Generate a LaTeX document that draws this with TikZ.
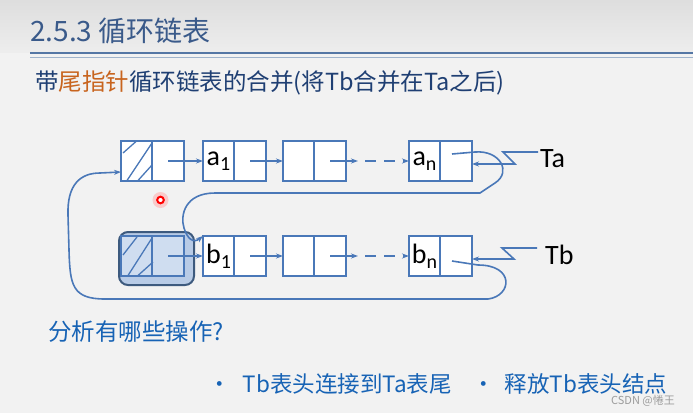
\documentclass[tikz,border=0pt]{standalone}
\usepackage{fontspec}
\setmainfont{Noto Sans CJK SC}
\newfontfamily\latinlbl{Carlito}
\usetikzlibrary{arrows.meta}
\definecolor{bgc}{HTML}{F2F2F2}
\definecolor{titleblue}{HTML}{3A5A8A}
\definecolor{subnavy}{HTML}{1F3F73}
\definecolor{orng}{HTML}{C8641E}
\definecolor{qblue}{HTML}{1763B5}
\definecolor{lblue}{HTML}{4A78B8}
\definecolor{hline}{HTML}{5577A5}
\definecolor{hline2}{HTML}{A0B4CC}
\definecolor{hfill}{HTML}{B8CBE6}
\definecolor{hdark}{HTML}{3D5A7E}
\definecolor{hcell}{HTML}{CFDDF0}
\tikzset{
  lk/.style={draw=lblue, line width=1.6pt},
  arr/.style={lk, -{Stealth[length=7pt,width=5pt]}},
  cell/.style={draw=lblue, line width=1.8pt, fill=white, minimum height=40pt, inner sep=0pt, outer sep=0pt},
  dcell/.style={cell, minimum width=31pt},
  pcell/.style={cell, minimum width=32pt},
  hatch/.style={draw=lblue, line width=1.3pt},
  lbl/.style={font=\latinlbl\fontsize{28}{28}\selectfont, text=black, inner sep=0pt},
  txt/.style={anchor=west, inner sep=0pt},
}
\newcommand{\subsc}[1]{\raisebox{-5pt}{\fontsize{20}{20}\selectfont #1}}
\begin{document}
\begin{tikzpicture}[x=1pt,y=-1pt]
\useasboundingbox (0,0) rectangle (693,413);
\fill[bgc] (0,0) rectangle (693,413);
\shade[top color=black!13, bottom color=black!7] (0,0) rectangle (693,52);
\draw[hline, line width=2.2pt] (30,53) -- (693,53);
\draw[hline2, line width=1pt] (30,57.5) -- (693,57.5);

% titles
\node[txt, text=titleblue, font=\fontsize{28}{28}\selectfont] (title) at (30,31) {2.5.3 循环链表};
\node[txt, font=\fontsize{23.5}{23.5}\selectfont, text=subnavy] (sub) at (35,83) {带\textcolor{orng}{尾指针}循环链表的合并(将Tb合并在Ta之后)};

% top list
\node[dcell, anchor=north west] (had) at (121,141) {};
\node[pcell, anchor=west] (hap) at (had.east) {};
\draw[hatch] (123,153) -- (136,141.5);
\draw[hatch] (127,180.5) -- (152,143);
\draw[hatch] (138,180.5) -- (152,165);

\node[dcell, anchor=north west] (a1d) at (203,141) {};
\node[pcell, anchor=west] (a1p) at (a1d.east) {};
\node[lbl] at (a1d.center) {a\subsc{1}};

\node[dcell, anchor=north west] (a2d) at (283,141) {};
\node[pcell, anchor=west] (a2p) at (a2d.east) {};

\node[dcell, anchor=north west] (and) at (409,141) {};
\node[pcell, anchor=west] (anp) at (and.east) {};
\node[lbl] at (and.center) {a\subsc{n}};

% bottom list
\node[draw=hdark, fill=hfill, rounded corners=9pt, line width=2pt, minimum width=75pt, minimum height=53pt, inner sep=0pt, anchor=north west] (hbox) at (118,231) {};
\node[dcell, fill=hcell, anchor=north west] (hbd) at (121,236) {};
\node[pcell, fill=hcell, anchor=west] (hbp) at (hbd.east) {};
\draw[hatch] (123,255) -- (137,237);
\draw[hatch] (128,275.5) -- (152,238);
\draw[hatch] (138,275.5) -- (153,262);

\node[dcell, anchor=north west] (b1d) at (203,236) {};
\node[pcell, anchor=west] (b1p) at (b1d.east) {};
\node[lbl] at (b1d.center) {b\subsc{1}};

\node[dcell, anchor=north west] (b2d) at (283,236) {};
\node[pcell, anchor=west] (b2p) at (b2d.east) {};

\node[dcell, anchor=north west] (bnd) at (409,236) {};
\node[pcell, anchor=west] (bnp) at (bnd.east) {};
\node[lbl] at (bnd.center) {b\subsc{n}};

% arrows top
\draw[arr] (hap.center) -- (a1d.west);
\draw[arr] (a1p.center) -- (a2d.west);
\draw[arr] (a2p.center) -- ++(28,0) coordinate (ma);
\draw[arr, dash pattern=on 11pt off 8pt] ([xshift=7pt]ma) -- (and.west);
% arrows bottom
\draw[arr] (hbp.center) -- (b1d.west);
\draw[arr] (b1p.center) -- (b2d.west);
\draw[arr] (b2p.center) -- ++(28,0) coordinate (mb);
\draw[arr, dash pattern=on 11pt off 8pt] ([xshift=7pt]mb) -- (bnd.west);

% Ta pointer
\node[lbl, anchor=west] (Ta) at (540,159) {Ta};
\coordinate (ta0) at (538,152);
\draw[arr] (ta0) -- (503,152) -- (515,164) -- (anp.east |- 0,164);
% Tb pointer
\node[lbl, anchor=west] (Tb) at (545,255) {Tb};
\coordinate (tb0) at (537,248);
\draw[arr] (tb0) -- (502,248) -- (514,259) -- (bnp.east |- 0,259);

% Ta tail -> b1
\draw[arr] ([xshift=-4pt,yshift=7pt]anp.center) -- (475,152)
  .. controls (500,150) and (512,172) .. (495,183) -- (480,193) -- (215,193)
  .. controls (185,193) and (180,215) .. (184,228)
  .. controls (187,238) and (193,244) .. (b1d.north west);
% Tb tail -> head A
\draw[arr] ([xshift=-4pt,yshift=-5pt]bnp.center) -- (478,265)
  .. controls (515,265) and (512,296) .. (488,299) -- (105,299)
  .. controls (72,299) and (70,285) .. (69,250) -- (68,215)
  .. controls (67,185) and (80,173) .. (100,173) -- ([yshift=-11pt]had.west);

% laser pointer dot
\fill[red!30, opacity=0.6] (160.5,200) circle (8);
\draw[red, line width=2pt, fill=white] (160.5,200) circle (3.3);

% question and bullets
\node[txt, text=qblue, font=\fontsize{23.5}{23.5}\selectfont] (q) at (48,332) {分析有哪些操作?};
\node[txt, text=qblue, font=\fontsize{22.5}{22.5}\selectfont] (b1t) at (208,384) {•\hspace{12pt}Tb表头连接到Ta表尾};
\node[txt, text=qblue, font=\fontsize{22.5}{22.5}\selectfont] (b2t) at (472,384) {•\hspace{10pt}释放Tb表头结点};
\node[txt, text=black!45, font=\fontsize{11}{11}\selectfont, opacity=0.85] (wm) at (611,401) {CSDN @惓王};
\end{tikzpicture}
\end{document}
